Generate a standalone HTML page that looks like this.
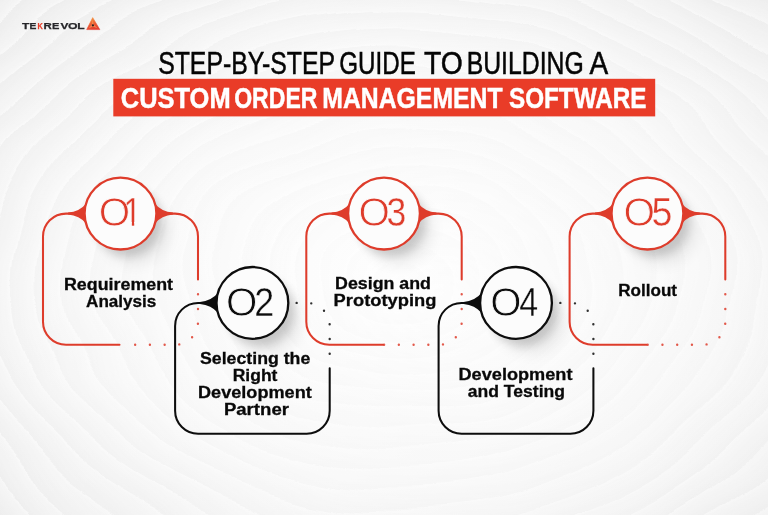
<!DOCTYPE html>
<html lang="en">
<head>
<meta charset="utf-8">
<title>Step-by-Step Guide to Building a Custom Order Management Software</title>
<style>
html,body{margin:0;padding:0;background:#f6f6f6;}
body{width:768px;height:515px;overflow:hidden;font-family:"Liberation Sans",sans-serif;}
svg{display:block;will-change:transform;}
text{font-family:"Liberation Sans",sans-serif;}
.ln{fill:none;stroke-width:2.05;stroke-linecap:round;}
.dot{fill:none;stroke-width:2.4;opacity:0.85;stroke-linecap:round;stroke-dasharray:0 14.75;}
.lab{font-weight:bold;font-size:17.4px;fill:#080808;stroke:#080808;stroke-width:0.3px;}
.num{font-size:40.0px;stroke:#fcfcfc;stroke-width:0.8px;}
.t1{font-size:31.3px;fill:#050505;stroke:#050505;stroke-width:0.5px;}
.t2{font-size:29.9px;font-weight:bold;fill:#fff;stroke:#fff;stroke-width:0.5px;}
.logo{font-size:9.9px;font-weight:bold;fill:#26262a;stroke:#26262a;stroke-width:0.25px;}
</style>
</head>
<body>
<svg width="768" height="515" viewBox="0 0 768 515">
<defs>
<filter id="wav" x="0" y="0" width="100%" height="100%" filterUnits="objectBoundingBox"><feTurbulence type="fractalNoise" baseFrequency="0.005 0.008" numOctaves="2" seed="7" result="n"/><feDisplacementMap in="SourceGraphic" in2="n" scale="40" xChannelSelector="R" yChannelSelector="G"/></filter>
<filter id="sh" x="-50%" y="-50%" width="200%" height="200%"><feGaussianBlur stdDeviation="4.5"/></filter>
<filter id="sh2" x="-50%" y="-50%" width="200%" height="200%"><feGaussianBlur stdDeviation="8"/></filter>
<radialGradient id="bg" cx="50%" cy="52%" r="75%">
<stop offset="0" stop-color="#fefefe"/><stop offset="0.55" stop-color="#fafafa"/><stop offset="1" stop-color="#f2f2f2"/>
</radialGradient>
<radialGradient id="rip" gradientUnits="userSpaceOnUse" cx="0" cy="0" r="19" spreadMethod="repeat" gradientTransform="translate(400 280) scale(1.45 1)">
<stop offset="0" stop-color="#ffffff"/><stop offset="0.12" stop-color="#f6f6f6"/><stop offset="0.96" stop-color="#e4e4e4"/><stop offset="1" stop-color="#ffffff"/>
</radialGradient>
<radialGradient id="mkg" cx="57%" cy="56%" r="76%"><stop offset="0" stop-color="#fff" stop-opacity="0.12"/><stop offset="0.45" stop-color="#fff" stop-opacity="0.35"/><stop offset="1" stop-color="#fff" stop-opacity="1"/></radialGradient>
<mask id="mk"><rect x="-40" y="-40" width="848" height="595" fill="url(#mkg)"/></mask>
<linearGradient id="tri" x1="0.3" y1="0" x2="0.6" y2="1"><stop offset="0" stop-color="#f4953f"/><stop offset="0.55" stop-color="#ec5a34"/><stop offset="1" stop-color="#e3392f"/></linearGradient>
</defs>
<rect width="768" height="515" fill="url(#bg)"/>
<g filter="url(#wav)" opacity="0.42"><rect x="-40" y="-40" width="848" height="595" fill="url(#rip)" mask="url(#mk)"/></g>
<text class="logo" y="28.55"><tspan x="21.98" textLength="7.38" lengthAdjust="spacingAndGlyphs">T</tspan><tspan x="29.42" textLength="6.88" lengthAdjust="spacingAndGlyphs">E</tspan><tspan fill="#e93c28" stroke="#e93c28" x="37.62" textLength="5.31" lengthAdjust="spacingAndGlyphs">K</tspan><tspan x="43.62" textLength="8.29" lengthAdjust="spacingAndGlyphs">R</tspan><tspan x="52.03" textLength="7.40" lengthAdjust="spacingAndGlyphs">E</tspan><tspan x="60.48" textLength="7.87" lengthAdjust="spacingAndGlyphs">V</tspan><tspan x="68.04" textLength="9.53" lengthAdjust="spacingAndGlyphs">O</tspan><tspan x="77.34" textLength="7.39" lengthAdjust="spacingAndGlyphs">L</tspan></text>
<path d="M92.7 17.6 L99.8 29.6 L86.7 29.6 Z" fill="url(#tri)" stroke="url(#tri)" stroke-width="0.6" stroke-linejoin="round"/>
<path d="M92.7 19.8 L93.6 24.6 L97.9 28.6 L92.9 26.6 L88.6 28.6 L91.9 24.6 Z" fill="#f7b26a" opacity="0.55"/>
<circle cx="92.9" cy="25.3" r="1.15" fill="#2b2024"/>
<text class="t1" y="73.9"><tspan x="158.13" textLength="176.54" lengthAdjust="spacingAndGlyphs">STEP-BY-STEP</tspan> <tspan x="339.31" textLength="76.52" lengthAdjust="spacingAndGlyphs">GUIDE</tspan> <tspan x="424.07" textLength="38.85" lengthAdjust="spacingAndGlyphs">TO</tspan> <tspan x="466.63" textLength="117.09" lengthAdjust="spacingAndGlyphs">BUILDING</tspan> <tspan x="589.60" textLength="18.70" lengthAdjust="spacingAndGlyphs">A</tspan></text>
<rect x="113.3" y="78.8" width="541.9" height="37.6" fill="#e93c28"/>
<text class="t2" y="108.0"><tspan x="120.77" textLength="109.82" lengthAdjust="spacingAndGlyphs">CUSTOM</tspan> <tspan x="234.18" textLength="83.23" lengthAdjust="spacingAndGlyphs">ORDER</tspan> <tspan x="322.33" textLength="180.22" lengthAdjust="spacingAndGlyphs">MANAGEMENT</tspan> <tspan x="509.04" textLength="137.37" lengthAdjust="spacingAndGlyphs">SOFTWARE</tspan></text>
<g><path class="ln" stroke="#de3c2b" d="M84.60 213.6 H66.00 A23 23 0 0 0 43.00 236.60 V321.80 A23 23 0 0 0 66.00 344.8 H119.50"/>
<path class="ln" stroke="#de3c2b" d="M156.40 213.6 H175.00 A23 23 0 0 1 198.00 236.60 V279.50"/>
<path class="dot" stroke="#de3c2b" d="M198.00 294.30 V321.80 A23 23 0 0 1 175.00 344.8 H120.50"/>
<circle cx="127.5" cy="221.6" r="35" fill="#000" opacity="0.13" filter="url(#sh)"/>
<circle cx="135.5" cy="230.6" r="32" fill="#000" opacity="0.085" filter="url(#sh2)"/>
<path fill="#de3c2b" d="M68.08 212.57 Q79.38 211.70 86.29 203.40 A35.70 35.70 0 0 0 86.29 223.80 Q79.38 215.50 68.08 214.62Z"/>
<path fill="#de3c2b" d="M172.93 212.57 Q161.62 211.70 154.71 203.40 A35.70 35.70 0 0 1 154.71 223.80 Q161.62 215.50 172.93 214.62Z"/>
<circle cx="120.50" cy="213.60" r="35.9" fill="#fcfcfc" stroke="#de3c2b" stroke-width="2.3"/></g>
<g><path class="ln" stroke="#0d0d0d" d="M216.50 302.9 H198.10 A23 23 0 0 0 175.10 325.90 V410.80 A23 23 0 0 0 198.10 433.8 H306.70 A23 23 0 0 0 329.70 410.80 V368.30"/>
<path class="dot" stroke="#0d0d0d" d="M329.70 353.70 V325.90 A23 23 0 0 0 306.70 302.9 H288.30"/>
<circle cx="259.4" cy="310.9" r="35" fill="#000" opacity="0.13" filter="url(#sh)"/>
<circle cx="267.4" cy="319.9" r="32" fill="#000" opacity="0.085" filter="url(#sh2)"/>
<path fill="#0d0d0d" d="M199.97 301.88 Q211.27 301.00 218.19 292.70 A35.70 35.70 0 0 0 218.19 313.10 Q211.27 304.80 199.97 303.92Z"/>
<circle cx="252.40" cy="302.90" r="35.9" fill="#fcfcfc" stroke="#0d0d0d" stroke-width="2.3"/></g>
<g><path class="ln" stroke="#de3c2b" d="M348.10 213.6 H329.30 A23 23 0 0 0 306.30 236.60 V321.80 A23 23 0 0 0 329.30 344.8 H383.00"/>
<path class="ln" stroke="#de3c2b" d="M419.90 213.6 H438.70 A23 23 0 0 1 461.70 236.60 V279.50"/>
<path class="dot" stroke="#de3c2b" d="M461.70 294.30 V321.80 A23 23 0 0 1 438.70 344.8 H384.00"/>
<circle cx="391.0" cy="221.6" r="35" fill="#000" opacity="0.13" filter="url(#sh)"/>
<circle cx="399.0" cy="230.6" r="32" fill="#000" opacity="0.085" filter="url(#sh2)"/>
<path fill="#de3c2b" d="M331.57 212.57 Q342.88 211.70 349.79 203.40 A35.70 35.70 0 0 0 349.79 223.80 Q342.88 215.50 331.57 214.62Z"/>
<path fill="#de3c2b" d="M436.43 212.57 Q425.12 211.70 418.21 203.40 A35.70 35.70 0 0 1 418.21 223.80 Q425.12 215.50 436.43 214.62Z"/>
<circle cx="384.00" cy="213.60" r="35.9" fill="#fcfcfc" stroke="#de3c2b" stroke-width="2.3"/></g>
<g><path class="ln" stroke="#0d0d0d" d="M480.10 302.9 H461.60 A23 23 0 0 0 438.60 325.90 V410.80 A23 23 0 0 0 461.60 433.8 H570.40 A23 23 0 0 0 593.40 410.80 V368.30"/>
<path class="dot" stroke="#0d0d0d" d="M593.40 353.70 V325.90 A23 23 0 0 0 570.40 302.9 H551.90"/>
<circle cx="523.0" cy="310.9" r="35" fill="#000" opacity="0.13" filter="url(#sh)"/>
<circle cx="531.0" cy="319.9" r="32" fill="#000" opacity="0.085" filter="url(#sh2)"/>
<path fill="#0d0d0d" d="M463.57 301.88 Q474.88 301.00 481.79 292.70 A35.70 35.70 0 0 0 481.79 313.10 Q474.88 304.80 463.57 303.92Z"/>
<circle cx="516.00" cy="302.90" r="35.9" fill="#fcfcfc" stroke="#0d0d0d" stroke-width="2.3"/></g>
<g><path class="ln" stroke="#de3c2b" d="M611.55 213.6 H592.60 A23 23 0 0 0 569.60 236.60 V321.80 A23 23 0 0 0 592.60 344.8 H646.45"/>
<path class="ln" stroke="#de3c2b" d="M683.35 213.6 H702.30 A23 23 0 0 1 725.30 236.60 V279.50"/>
<path class="dot" stroke="#de3c2b" d="M725.30 294.30 V321.80 A23 23 0 0 1 702.30 344.8 H647.45"/>
<circle cx="654.5" cy="221.6" r="35" fill="#000" opacity="0.13" filter="url(#sh)"/>
<circle cx="662.5" cy="230.6" r="32" fill="#000" opacity="0.085" filter="url(#sh2)"/>
<path fill="#de3c2b" d="M595.03 212.57 Q606.33 211.70 613.24 203.40 A35.70 35.70 0 0 0 613.24 223.80 Q606.33 215.50 595.03 214.62Z"/>
<path fill="#de3c2b" d="M699.88 212.57 Q688.58 211.70 681.66 203.40 A35.70 35.70 0 0 1 681.66 223.80 Q688.58 215.50 699.88 214.62Z"/>
<circle cx="647.45" cy="213.60" r="35.9" fill="#fcfcfc" stroke="#de3c2b" stroke-width="2.3"/></g>
<text class="num" fill="#de3c2b" y="225.70"><tspan x="98.83" textLength="31.45" lengthAdjust="spacingAndGlyphs">O</tspan><tspan x="123.57" textLength="17.80" lengthAdjust="spacingAndGlyphs" stroke-width="0.35">1</tspan></text>
<path fill="#fcfcfc" d="M125.00 221.91H131.85V226.70H125.00Z M134.20 221.91H140.80V226.70H134.20Z"/>
<text class="num" fill="#0d0d0d" y="315.80"><tspan x="226.07" textLength="31.40" lengthAdjust="spacingAndGlyphs">O</tspan><tspan x="254.37" textLength="19.96" lengthAdjust="spacingAndGlyphs" stroke-width="0.35">2</tspan></text>
<text class="num" fill="#de3c2b" y="225.70"><tspan x="358.46" textLength="31.40" lengthAdjust="spacingAndGlyphs">O</tspan><tspan x="386.38" textLength="19.80" lengthAdjust="spacingAndGlyphs" stroke-width="0.35">3</tspan></text>
<text class="num" fill="#0d0d0d" y="315.80"><tspan x="490.26" textLength="31.28" lengthAdjust="spacingAndGlyphs">O</tspan><tspan x="519.16" textLength="18.87" lengthAdjust="spacingAndGlyphs" stroke-width="0.35">4</tspan></text>
<text class="num" fill="#de3c2b" y="225.70"><tspan x="623.46" textLength="31.58" lengthAdjust="spacingAndGlyphs">O</tspan><tspan x="651.50" textLength="20.88" lengthAdjust="spacingAndGlyphs" stroke-width="0.35">5</tspan></text>
<text class="lab" x="63.93" y="289.6" textLength="109.12" lengthAdjust="spacingAndGlyphs">Requirement</text>
<text class="lab" x="86.09" y="306.6" textLength="70.27" lengthAdjust="spacingAndGlyphs">Analysis</text>
<text class="lab" x="200.00" y="363.8" textLength="110.31" lengthAdjust="spacingAndGlyphs">Selecting the</text>
<text class="lab" x="232.67" y="381.0" textLength="44.79" lengthAdjust="spacingAndGlyphs">Right</text>
<text class="lab" x="198.03" y="398.2" textLength="113.72" lengthAdjust="spacingAndGlyphs">Development</text>
<text class="lab" x="223.92" y="415.4" textLength="65.04" lengthAdjust="spacingAndGlyphs">Partner</text>
<text class="lab" x="335.12" y="289.3" textLength="95.86" lengthAdjust="spacingAndGlyphs">Design and</text>
<text class="lab" x="333.62" y="306.3" textLength="102.76" lengthAdjust="spacingAndGlyphs">Prototyping</text>
<text class="lab" x="458.53" y="379.9" textLength="113.92" lengthAdjust="spacingAndGlyphs">Development</text>
<text class="lab" x="467.79" y="397.0" textLength="97.18" lengthAdjust="spacingAndGlyphs">and Testing</text>
<text class="lab" x="618.22" y="296.4" textLength="58.84" lengthAdjust="spacingAndGlyphs">Rollout</text>
</svg>
</body>
</html>
